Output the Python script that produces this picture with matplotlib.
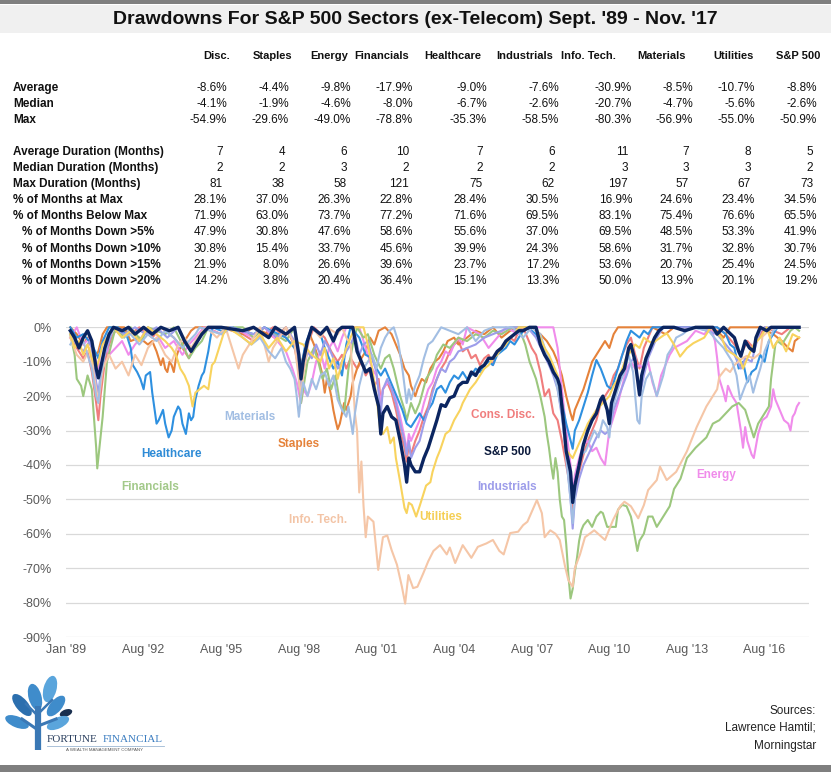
import matplotlib
matplotlib.use("Agg")
import matplotlib.pyplot as plt
from matplotlib.patches import Rectangle, Ellipse
from matplotlib import font_manager

# ---------------- table data ----------------
sectors = ["Disc.", "Staples", "Energy", "Financials", "Healthcare",
           "Industrials", "Info. Tech.", "Materials", "Utilities", "S&P 500"]
avg_dd = [-8.6, -4.4, -9.8, -17.9, -9.0, -7.6, -30.9, -8.5, -10.7, -8.8]
median_dd = [-4.1, -1.9, -4.6, -8.0, -6.7, -2.6, -20.7, -4.7, -5.6, -2.6]
max_dd = [-54.9, -29.6, -49.0, -78.8, -35.3, -58.5, -80.3, -56.9, -55.0, -50.9]
avg_dur = [7, 4, 6, 10, 7, 6, 11, 7, 8, 5]
median_dur = [2, 2, 3, 2, 2, 2, 3, 3, 3, 2]
max_dur = [81, 38, 58, 121, 75, 62, 197, 57, 67, 73]
pct_at_max = [28.1, 37.0, 26.3, 22.8, 28.4, 30.5, 16.9, 24.6, 23.4, 34.5]
pct_below_max = [71.9, 63.0, 73.7, 77.2, 71.6, 69.5, 83.1, 75.4, 76.6, 65.5]
pct_down5 = [47.9, 30.8, 47.6, 58.6, 55.6, 37.0, 69.5, 48.5, 53.3, 41.9]
pct_down10 = [30.8, 15.4, 33.7, 45.6, 39.9, 24.3, 58.6, 31.7, 32.8, 30.7]
pct_down15 = [21.9, 8.0, 26.6, 39.6, 23.7, 17.2, 53.6, 20.7, 25.4, 24.5]
pct_down20 = [14.2, 3.8, 20.4, 36.4, 15.1, 13.3, 50.0, 13.9, 20.1, 19.2]

# ---------------- chart data (month 0 = Sep '89, 338 = Nov '17) ----------------
disc_m = [0, 3, 6, 8, 10, 12, 13, 14, 16, 18, 20, 22, 28, 32, 38, 42, 48, 52, 55, 57, 60, 63, 70, 75, 85, 90, 94,
          100, 104, 106, 107, 108, 110, 113, 118, 121, 124, 126, 128, 130, 133, 135, 137, 139, 141, 143, 144, 145,
          147, 149, 151, 153, 155, 156, 157, 158, 160, 162, 164, 166, 168, 170, 172, 174, 176, 178, 180, 182, 184,
          186, 188, 190, 192, 194, 196, 198, 200, 202, 204, 206, 208, 210, 212, 214, 216, 218, 220, 222, 224, 226,
          228, 230, 232, 233, 234, 236, 238, 240, 242, 244, 246, 248, 250, 252, 254, 256, 258, 260, 262, 264, 266,
          268, 270, 300, 304, 308, 311, 314, 317, 320, 322, 330, 334, 338]
disc_dd = [-3, -6, -9, -7, -13, -22, -27, -20, -10, -5, -2, 0, -2, 0, -3, 0, -3, -6, -9, -6, -3, 0, -2, 0, -4, -2, 0,
           -3, -6, -12, -16, -10, -5, 0, -3, -7, -10, -8, -12, -9, -12, -10, -14, -12, -17, -15, -22, -18,
           -16, -19, -24, -30, -35, -39, -34, -37, -33, -30, -26, -23, -18, -15, -12, -10, -7, -5, -4, -7, -6,
           -9, -8, -11, -9, -8, -11, -7, -6, -5, -3, -4, -1, 0, -3, -6, -8, -13, -20, -18, -25, -27,
           -33, -40, -47, -54.9, -48, -42, -37, -33, -30, -27, -22, -20, -18, -14, -12, -8, -5, -3, -8, -12, -6,
           -3, 0, 0, -2, -5, -8, -4, -6, -2, 0, -2, 0, 0]

staples_m = [0, 3, 6, 8, 10, 12, 13, 15, 17, 25, 28, 32, 36, 38, 40, 42, 43, 44, 45, 46, 47, 48, 49, 50, 52, 54, 56,
             58, 70, 80, 85, 95, 100, 103, 105, 107, 109, 111, 113, 115, 117, 118, 119, 120, 121, 122, 123, 124,
             125, 127, 128, 130, 131, 133, 135, 137, 139, 141, 143, 146, 149, 151, 153, 155, 157, 158, 160, 161,
             163, 165, 167, 169, 171, 173, 175, 178, 180, 184, 188, 192, 196, 200, 204, 208, 214, 218, 221, 224,
             226, 228, 230, 232, 233, 234, 236, 238, 240, 242, 244, 246, 248, 250, 252, 254, 270, 276, 280, 290,
             300, 303, 306, 320, 326, 330, 333, 335, 336, 338]
staples_dd = [0, -2, -5, -3, -6, -8, -7, -2, 0, 0, -4, -3, -5, -4, -7, -11, -9, -12, -13, -10, -11, -13, -9, -7, -5,
              -3, -1, 0, 0, -2, 0, -3, 0, -4, -7, -11, -6, -2, -5, -9, -14, -19, -15, -17, -20, -24, -27, -29.6,
              -28, -22, -24, -20, -16, -12, -9, -7, -3, -5, -1, 0, -2, -5, -8, -12, -14, -17, -20, -18,
              -15, -16, -12, -10, -9, -7, -4, -3, -5, -3, -1, -2, 0, -3, -1, 0, 0, -2, -4, -7,
              -10, -14, -20, -25, -27, -24, -21, -18, -14, -10, -8, -6, -4, -6, -2, 0, 0, -2, 0, 0,
              -1, -3, 0, 0, -2, -4, -6, -7, -4, -3]

energy_m = [0, 3, 6, 9, 12, 13, 14, 16, 18, 21, 24, 27, 30, 33, 36, 40, 44, 48, 52, 55, 58, 62, 70, 75, 85, 90, 96,
            100, 103, 105, 107, 108, 110, 112, 114, 116, 118, 120, 122, 124, 126, 128, 134, 136, 138, 140, 142,
            144, 145, 147, 149, 151, 153, 155, 156, 157, 158, 160, 162, 164, 166, 168, 170, 172, 174, 176, 178,
            180, 182, 184, 190, 194, 198, 202, 208, 212, 224, 226, 228, 230, 232, 233, 234, 236, 238, 240, 242,
            244, 246, 248, 250, 252, 254, 256, 258, 260, 262, 264, 266, 268, 270, 272, 274, 276, 278, 280, 283,
            286, 290, 294, 297, 299, 300, 301, 303, 304, 305, 307, 309, 310, 311, 312, 313, 314, 316, 317, 319,
            321, 323, 325, 326, 327, 329, 331, 333, 334, 335, 336, 337, 338]
energy_dd = [-3, 0, -5, -3, -10, -12, -6, -3, -8, -6, -4, -8, -5, -3, 0, -2, -6, -4, -8, -5, -3, 0, -2, 0, -3, 0, -4,
             -7, -12, -16, -22, -18, -20, -16, -10, -7, -12, -6, -4, -7, -3, 0, 0, -4, -8, -12, -14,
             -22, -18, -16, -17, -21, -26, -32, -36, -31, -33, -30, -27, -22, -18, -16, -12, -10, -7, -8, -5,
             -3, -5, 0, -2, -6, -3, 0, -2, 0, 0, -6, -18, -30, -40, -49, -43, -38, -34, -33, -36,
             -35, -38, -40, -30, -26, -22, -17, -12, -10, -12, -11, -12, -10, -16, -20, -14, -11, -8, -6, -5,
             -4, -1, -2, 0, -4, -9, -15, -19, -21.5, -17, -20, -22, -26, -30, -35, -29, -33, -37, -38, -31,
             -27, -26, -23, -18, -21, -24, -27, -28, -30, -26, -25, -23, -22]

fin_m = [0, 2, 3, 5, 6, 8, 10, 12, 12.5, 13.5, 15, 17, 19, 21, 25, 28, 33, 36, 44, 48, 52, 55, 58, 61, 64, 80, 85, 90,
         100, 104, 106, 107, 108, 110, 113, 115, 117, 119, 121, 123, 125, 127, 129, 131, 133, 136, 138, 141, 144, 146,
         148, 150, 153, 155, 156, 158, 160, 162, 165, 168, 170, 173, 176, 180, 184, 188, 192, 196, 200, 205, 208,
         211, 213, 216, 218, 220, 221, 222, 223, 224, 225, 226, 227, 228, 229, 230, 231, 232, 233, 234, 235, 236,
         237, 238, 240, 242, 244, 246, 247, 249, 251, 253, 254, 256, 258, 260, 261, 263, 264, 266, 268, 270, 272,
         275, 278, 280, 283, 286, 290, 295, 298, 301, 304, 307, 310, 313, 315, 317, 319, 320, 322, 324, 325, 326,
         327, 328, 330, 332, 334, 336, 338]
fin_dd = [-2, -8, -15, -17, -20, -14, -18, -35, -41, -35, -26, -10, -5, 0, -3, 0, -4, 0, -2, 0, -5, -9, -6, -4, 0, 0,
          -3, 0, -4, 0, -14, -22, -18, -10, -6, -10, -15, -12, -18, -14, -22, -25, -12, -5, 0, -3, -2, -8, -12, -9,
          -8, -12, -20, -24, -27, -22, -25, -22, -15, -12, -8, -5, -6, -3, -4, -2, -3, -1, -2, 0, 0,
          -5, -10, -15, -20, -26, -31, -35, -40, -44, -38, -42, -50, -55, -56, -63, -72, -78.8, -76, -71, -67, -62,
          -59, -57.5, -56, -58, -55, -53.6, -54, -58, -58, -58, -53, -51.6, -52, -55, -58, -65, -62, -60, -55, -55,
          -58, -55, -52, -47, -44, -38, -35, -32, -28, -27, -25, -23, -22, -24, -28, -32, -28, -27, -25, -23, -15,
          -10, -5, -4, -5, -3, -1, 0, -1]

health_m = [0, 3, 6, 10, 13, 15, 18, 22, 26, 28, 29, 31, 32.5, 34, 35, 37, 38, 40, 41, 43, 44, 45.6, 47, 48, 50, 51,
            52, 53.6, 55, 56, 57, 58, 59.5, 61, 62, 64, 65, 66, 70, 75, 85, 90, 100, 104, 106, 107, 109, 112, 116,
            118, 120, 122, 124, 126, 128, 130, 134, 137, 140, 142, 144, 146, 148, 150, 152, 154, 156, 158, 160,
            162, 164, 166, 168, 170, 172, 174, 176, 178, 180, 182, 184, 186, 188, 190, 192, 194, 196, 198, 200,
            202, 204, 206, 208, 210, 212, 216, 218, 220, 222, 224, 226, 228, 230, 233, 234, 236, 238, 240, 242,
            244, 246, 249, 251, 253, 255, 258, 260, 264, 266, 268, 270, 300, 304, 306, 308, 310, 312, 314, 316,
            318, 320, 322, 324, 326, 328, 338]
health_dd = [0, -3, -2, -5, -9, -4, 0, 0, -2, -6, -11, -13, -15, -18, -14, -13, -19, -28, -27, -24, -28, -32, -30,
             -26, -23, -24, -28, -31, -25, -27, -26, -21, -17, -14, -13, -7, -3, 0, -1, 0, -2, 0, -3, -6, -9, -12,
             -5, 0, -2, -6, -9, -12, -10, -14, -5, 0, -3, -8, -9, -12, -14, -12, -15, -18, -21, -24, -28, -29,
             -27, -25, -27, -24, -22, -18, -17, -19, -16, -14, -15, -13, -15, -14, -12, -13, -11, -10, -11, -8,
             -7, -6, -4, -5, -3, -1, 0, -2, -5, -8, -9, -12, -15, -22, -28, -35.3, -30, -27, -23, -19, -14,
             -9.5, -12, -17, -18, -14, -10, -4, -1, -3, -1, -2, 0, 0, -2, -5, -6, -12, -10, -16, -13,
             -12, -8, -10, -4, -2, 0, 0]

ind_m = [0, 3, 6, 9, 11, 12, 13, 14, 16, 18, 20, 25, 30, 35, 40, 45, 50, 53, 56, 58, 61, 63, 75, 85, 90, 96, 100, 104,
         106, 107, 108, 110, 112, 114, 116, 118, 120, 122, 124, 126, 128, 130, 132, 134, 136, 138, 140, 142, 144,
         145, 147, 149, 151, 153, 155, 156, 157, 158, 160, 162, 164, 166, 168, 170, 172, 174, 176, 178, 180, 184,
         188, 192, 196, 200, 204, 212, 216, 219, 222, 224, 226, 228, 230, 232, 233, 234, 236, 238, 241, 244, 246,
         248, 250, 252, 255, 258, 260, 262, 264, 266, 268, 270, 272, 275, 290, 300, 304, 308, 311, 313, 316, 318,
         320, 322, 338]
ind_dd = [-2, -5, -7, -4, -10, -16, -19, -14, -8, -4, 0, -2, 0, -2, 0, -3, 0, -4, -7, -5, -2, 0, 0, -2, 0, -3, 0, -4,
          -12, -18, -13, -7, -9, -5, -8, -4, -6, -9, -12, -10, -7, -5, -2, -8, -5, -4, -9, -13, -25,
          -18, -15, -18, -22, -28, -33, -37, -33, -38, -35, -33, -28, -24, -19, -15, -12, -13, -10, -9, -7, -6,
          -5, -3, -2, -1, 0, 0, -3, -7, -11, -14, -18, -26, -37, -50, -58.5, -50, -44, -40, -36, -32, -30,
          -31, -30, -24, -19, -14, -10, -8.5, -20, -14, -9, -6, -3, 0, 0, -2, -5, -8, -12, -9, -10, -5,
          -1, 0, 0]

tech_m = [0, 3, 6, 9, 12, 13, 15, 18, 21, 24, 27, 30, 33, 36, 40, 44, 47, 50, 53, 56, 60, 63, 68, 72, 76, 78, 80, 84,
          88, 92, 94, 97, 100, 104, 106, 107, 108, 110, 112, 116, 119, 124, 126, 128, 130, 131, 132, 133, 134, 135,
          136, 137, 138, 140.6, 142.8, 145, 147, 149, 151.5, 153.8, 155.3, 156.8, 159, 161, 163.7, 166, 168.4,
          171.5, 174.6, 176, 178.5, 182, 186, 189, 193, 196, 199, 201, 204, 207.7, 210, 212, 216.4, 218.7, 220,
          222.6, 225, 227, 229.5, 231, 233, 234, 236.4, 238.7, 243, 248, 251.7, 255, 257, 260, 263.4, 266, 268,
          272, 273.5, 276.6, 281, 286, 290.5, 295, 300, 301, 304, 306, 308, 310.6, 313.7, 317, 320, 321, 324,
          326, 338]
tech_dd = [-3, -8, -10, -6, -18, -22, -12, -8, -12, -10, -14, -8, -11, -6, -3, -8, -10, -5, -3, -6, -2, 0, -3, 0, -8,
           -12, -8, -4, 0, -10, -6, -3, 0, -5, -15, -20, -14, -6, 0, -3, 0, -2, 0, -3, -5, -15, -25, -30, -48, -39,
           -52, -61, -55, -56.5, -70.5, -61, -60.5, -64.7, -69, -75.4, -80.3, -72, -75.8, -75.4, -71.5, -68, -65,
           -63.3, -66, -64, -68.5, -63.3, -67, -63.8, -62.8, -61.8, -65, -66, -59.8, -59.4, -57.5, -56.5, -50.2,
           -54, -61, -59, -60, -61.8, -69.6, -73.5, -75.4, -70, -66, -61, -59, -61.8, -56, -52, -50.7, -52, -55.5,
           -51.7, -47.3, -44.4, -40.5, -44.4, -42, -36, -29, -23, -18, -14.4, -12, -13, -11, -9.5, -8.3, -9, -7.5,
           -2.7, -1, 0, 0]

mat_m = [0, 2, 4, 6, 8, 10, 12, 13, 14, 16, 18, 20, 24, 28, 32, 36, 40, 44, 48, 52, 55, 58, 60, 70, 75, 80, 84, 88, 92,
         95, 98, 100, 102, 104, 105, 106, 107, 108, 110, 112, 114, 116, 118, 120, 122, 124, 126, 128, 129, 131, 132,
         134, 136, 138, 140, 142, 144, 146, 148, 150, 152, 154, 156, 157, 158, 160, 162, 164, 166, 168, 170, 172,
         180, 184, 188, 192, 196, 205, 210, 214, 218, 221, 224, 226, 228, 230, 232, 233, 234, 235, 237, 239, 241,
         243, 245, 247, 249, 250, 251, 253, 255, 257, 259, 261, 263, 264, 265, 267, 269, 272, 275, 277, 279, 281,
         284, 288, 296, 300, 303, 305, 307, 309, 310.6, 313, 315, 316.7, 318, 320, 322, 324, 326, 328, 338]
mat_dd = [-5, -3, -6, -4, -8, -12, -20, -22, -15, -7, -3, 0, -3, -2, -5, -2, -4, -1, -3, -6, -4, -2, 0, -2, 0, -3, -5,
          -3, -7, -9, -6, -10, -12, -15, -20, -26, -20, -16, -20, -15, -18, -14, -13, -17, -14, -21, -24, -26, -23,
          -31, -25, -17, -12, -10, -8, -12, -6, -3, -1, 0, -4, -12, -22, -18, -21, -17, -14, -9, -5, -4, -2, 0,
          -2, 0, -4, -1, 0, 0, -3, 0, -2, -8, -12, -18, -25, -38, -50, -56.9, -49, -42, -37, -36, -33,
          -30, -32, -27, -29, -32, -25, -20, -16, -13, -8, -13, -27, -28, -20, -15, -13, -20, -14, -8, -6, -3,
          -2, 0, -1, -4, -6, -8, -10, -14, -21, -17, -14, -19, -16, -12, -7, -4, -1, 0, 0]

util_m = [0, 2, 4, 6, 8, 10, 12, 13, 15, 17, 20, 24, 28, 32, 36, 40, 44, 47, 49, 51, 53, 55, 56.7, 58, 60, 62, 64,
          65.7, 67, 69, 71, 73, 80, 84, 88, 92, 96, 100, 104, 108, 112, 116, 118, 120, 122, 124, 126, 128, 130, 132,
          136, 138, 140, 142, 143.7, 145, 147, 148.4, 150, 151, 153, 155, 156, 157, 158.4, 160.4, 162, 164, 165, 167,
          168, 170, 171.5, 174, 176, 178, 180.8, 182, 185.4, 188, 190, 192, 194, 196, 198, 200, 202, 204, 206,
          208, 216, 218, 220, 222, 224, 226, 228, 230, 233, 236, 238, 240, 242, 244, 247, 250, 252, 254, 256, 258,
          260, 262, 264, 266, 268, 270, 276.6, 280, 282.8, 286, 289, 294, 297, 302, 304.4, 308, 310.6, 312, 314,
          317, 320, 323, 326, 329, 332, 335, 338]
util_dd = [-2, -6, -4, -8, -5, -9, -12, -10, -5, -3, 0, -3, -1, -4, 0, -2, -4, -6, -8, -12, -14, -17, -23, -19, -18,
           -17, -18, -11, -10, -6, -2, 0, -3, -5, -2, -6, -3, -7, -4, -5, -8, -10, -6, -12, -9, -15, -10, -6, -3, 0,
           0, -5, -12, -20, -29.8, -31, -29, -33.7, -32, -38, -45, -52.5, -54, -51, -51.6, -55, -52, -48, -46,
           -45, -42, -38, -35.7, -31, -30, -27, -24, -22, -18, -16, -14, -12, -11, -9, -8, -6, -5, -3, -2,
           0, 0, -3, -6, -8, -11, -14, -22, -35.7, -38, -33.7, -31, -28, -26, -24, -22, -20, -17, -15, -12, -8.5,
           -7, -5, -6, -3, -4, -4.6, -1.7, -5, -8.5, -6, -4.6, -3, 0, -3, -6.6, -8, -9.5, -12, -9,
           -5, -3, 0, -6, -3, -7, -2, -3]

sp_m = [0, 2, 4, 6, 8, 10, 12, 13, 14, 16, 18, 20, 24, 27, 30, 34, 38, 42, 46, 50, 53, 56, 58, 61, 64, 70, 80, 85,
        92, 95, 100, 104, 106, 107, 108, 110, 112, 116, 119, 122, 124, 126, 131, 133, 135, 137, 139, 141, 143,
        144, 145, 147, 149, 151, 153, 155, 156, 157, 158, 160, 162, 164, 166, 168, 170, 172, 174, 176, 178, 180,
        182, 184, 186, 188, 190, 192, 194, 196, 198, 200, 202, 204, 206, 208, 210, 213, 216, 218, 220, 222, 224,
        226, 227, 229, 230, 232, 233, 234, 236, 238, 240, 242, 244, 246, 247, 249, 250, 251, 253, 255, 257, 259,
        260, 262, 264, 265, 267, 269, 271, 273, 275, 280, 285, 290, 298, 300, 303, 308, 310, 311, 313, 315, 317,
        318, 320, 323, 325, 338]
sp_dd = [-1, -3, -6, -3, -1, -4, -12, -14.7, -12, -6, -2, 0, -1, 0, -2, 0, -2, 0, -1, 0, -4, -7, -5, -2, 0, 0, -1, 0,
         -3, 0, -2, 0, -8, -15, -10, -4, 0, -2, 0, -4, -1, 0, 0, -7, -10, -13, -12, -18, -23,
         -31, -25, -23, -26, -27, -33, -40, -45, -38, -40, -42, -42, -38, -35, -31, -27, -22.5, -23, -20.5, -20, -17,
         -16, -16, -13, -14, -11.8, -11, -9, -9, -7, -6, -4, -3, -2, -1, -1, 0, 0, -5, -8, -10, -13,
         -15, -17, -29, -36, -42, -50.9, -46, -40, -34, -30, -27, -25, -21, -20, -24, -28, -22, -18, -14, -12, -6,
         -5, -10, -19.6, -14, -9, -6, -3, -1, 0, 0, -1, 0, 0, -2, 0, -3, -7, -8.4, -4, -6, -7,
         -3, 0, -1, 0, 0]

# plotting order and styles
series = [
    (disc_m, disc_dd, "#F07D7D", 1.5),
    (staples_m, staples_dd, "#E5823A", 1.5),
    (energy_m, energy_dd, "#F08CEB", 1.5),
    (fin_m, fin_dd, "#9CC77E", 1.5),
    (health_m, health_dd, "#2E90E0", 1.5),
    (ind_m, ind_dd, "#9D9DEA", 1.5),
    (tech_m, tech_dd, "#F5C6A7", 1.5),
    (mat_m, mat_dd, "#A2BEE3", 1.5),
    (util_m, util_dd, "#F8D35E", 1.5),
    (sp_m, sp_dd, "#0B2560", 2.4),
]

# in-chart labels: text, month, value, colour
chart_labels = [
    ("Healthcare", 46.8, -36.8, "#2E8BD6"),
    ("Financials", 37, -46.4, "#A3C98A"),
    ("Materials", 83.4, -26, "#A2BEE3"),
    ("Staples", 105.7, -33.9, "#E5823A"),
    ("Info. Tech.", 115, -56, "#F3C4A6"),
    ("Cons. Disc.", 200.7, -25.5, "#F07D7D"),
    ("S&P 500", 202.6, -36.3, "#0B1A3C"),
    ("Industrials", 202.6, -46.4, "#9D9DEA"),
    ("Utilities", 172, -55.2, "#F5CF55"),
    ("Energy", 299.5, -43, "#F08CEB"),
]

x_tick_pos = [-2 + 36 * k for k in range(10)]
x_tick_labels = ["Jan '89", "Aug '92", "Aug '95", "Aug '98", "Aug '01",
                 "Aug '04", "Aug '07", "Aug '10", "Aug '13", "Aug '16"]

# ---------------- fonts ----------------
installed = {f.name for f in font_manager.fontManager.ttflist}
narrow = "Liberation Sans Narrow" if "Liberation Sans Narrow" in installed else "Liberation Sans"
plt.rcParams['font.family'] = [narrow, 'DejaVu Sans']

W, H = 831, 772
fig = plt.figure(figsize=(W / 100, H / 100), dpi=100)
fig.patch.set_facecolor("white")

# overlay axes in pixel coordinates for title, table, logo, sources
bg = fig.add_axes([0, 0, 1, 1])
bg.set_xlim(0, W)
bg.set_ylim(H, 0)
bg.axis("off")

bg.add_patch(Rectangle((0, 0), W, 4, color="#7F7F7F", lw=0))
bg.add_patch(Rectangle((0, 5), W, 28, color="#F0F0F0", lw=0))
bg.add_patch(Rectangle((0, 765), W, 7, color="#7F7F7F", lw=0))
bg.text(415, 19, "Drawdowns For S&P 500 Sectors (ex-Telecom) Sept. '89 - Nov. '17",
        ha="center", va="center", fontsize=14, fontweight="bold", color="#111111")

# table
col_right = [227, 289, 351, 413, 487, 559, 632, 693, 755, 817]
head_center = [217, 273, 329, 382, 453, 525, 588, 662, 734, 798]
for name, xc in zip(sectors, head_center):
    bg.text(xc, 56, name, ha="center", va="center", fontsize=8, fontweight="bold", color="#111111")

rows = [
    ("Average", 88, avg_dd, "pct", 13),
    ("Median", 104, median_dd, "pct", 13),
    ("Max", 120, max_dd, "pct", 13),
    ("Average Duration (Months)", 152, avg_dur, "int", 13),
    ("Median Duration (Months)", 168, median_dur, "int", 13),
    ("Max Duration (Months)", 184, max_dur, "int", 13),
    ("% of Months at Max", 200, pct_at_max, "pct", 13),
    ("% of Months Below Max", 216, pct_below_max, "pct", 13),
    ("% of Months Down >5%", 232, pct_down5, "pct", 22),
    ("% of Months Down >10%", 249, pct_down10, "pct", 22),
    ("% of Months Down >15%", 265, pct_down15, "pct", 22),
    ("% of Months Down >20%", 281, pct_down20, "pct", 22),
]
for label, y, vals, kind, indent in rows:
    bg.text(indent, y, label, ha="left", va="center", fontsize=8.5, fontweight="bold", color="#111111")
    for v, xr in zip(vals, col_right):
        if kind == "pct":
            bg.text(xr, y, f"{v:.1f}%", ha="right", va="center", fontsize=8.5, color="#111111")
        else:
            bg.text(xr - 4, y, f"{v}", ha="right", va="center", fontsize=8.5, color="#111111")

# logo (simplified tree); y axis of bg is inverted, so angles read clockwise
bg.plot([38, 38], [750, 706], color="#3A78B5", lw=4.5, solid_capstyle="butt")
bg.plot([38, 22], [730, 719], color="#3A78B5", lw=2.2)
bg.plot([38, 56], [726, 719], color="#3A78B5", lw=2.2)
bg.plot([38, 52], [714, 700], color="#3A78B5", lw=1.8)
bg.plot([38, 26], [716, 704], color="#3A78B5", lw=1.8)
leaves = [(50, 689, 13, 27, 15, "#5AA5DC"),
          (35, 697, 13, 27, -15, "#3F8CCB"),
          (22, 705, 12, 27, -40, "#2C6FAE"),
          (56, 706, 12, 25, 40, "#3F8CCB"),
          (66, 713, 13, 7, -20, "#1A3050"),
          (17, 722, 11, 25, -68, "#3F8CCB"),
          (58, 723, 11, 24, 65, "#5AA5DC")]
for x0, y0, w0, h0, ang, c in leaves:
    bg.add_patch(Ellipse((x0, y0), w0, h0, angle=ang, color=c, lw=0))
bg.text(47, 739, "FORTUNE", fontsize=8, family=["Liberation Serif", "DejaVu Serif"],
        color="#2A3F5F", va="center", ha="left")
bg.text(103, 739, "FINANCIAL", fontsize=8, family=["Liberation Serif", "DejaVu Serif"],
        color="#3A7CC0", va="center", ha="left")
bg.plot([47, 164], [745.5, 745.5], color="#9DB8D3", lw=0.6)
bg.text(104, 750, "A WEALTH MANAGEMENT COMPANY", fontsize=3.2, ha="center", va="center", color="#555555")

# sources
for txt, y in [("Sources:", 711), ("Lawrence Hamtil;", 728), ("Morningstar", 746)]:
    bg.text(816, y, txt, ha="right", va="center", fontsize=8.5, color="#222222")

# ---------------- line chart ----------------
ax = fig.add_axes([66 / W, 1 - 637 / H, (809 - 66) / W, (637 - 327.3) / H])
for m, dd, c, lw in series:
    ax.plot(m, dd, color=c, lw=lw, clip_on=False, solid_joinstyle="round")

ax.set_xlim(-1.85, 342.6)
ax.set_ylim(-90, 0)
ax.set_yticks(range(-90, 1, 10))
ax.set_yticklabels([f"{t}%" for t in range(-90, 1, 10)])
ax.set_xticks(x_tick_pos)
ax.set_xticklabels(x_tick_labels)
ax.tick_params(length=0, labelsize=9, labelcolor="#595959")
ax.tick_params(axis="y", pad=10)
ax.tick_params(axis="x", pad=5)
for lab in ax.get_xticklabels() + ax.get_yticklabels():
    lab.set_family(["Liberation Sans", "DejaVu Sans"])
ax.grid(axis="y", color="#D9D9D9", lw=0.9)
ax.set_axisbelow(True)
for s in ax.spines.values():
    s.set_visible(False)

for txt, mx, my, c in chart_labels:
    ax.text(mx, my, txt, ha="center", va="center", fontsize=8.5, fontweight="bold",
            color=c, family=["Liberation Sans", "DejaVu Sans"])

fig.savefig("out.png", dpi=100)
